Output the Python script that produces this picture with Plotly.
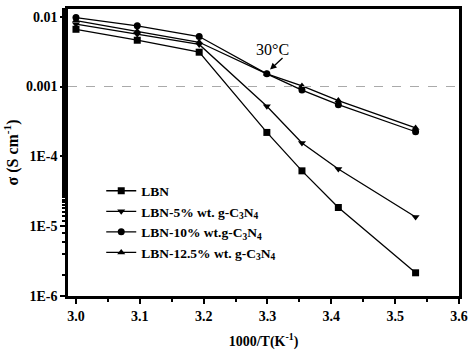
import math
import plotly.graph_objects as go

x_vals = [3.0, 3.096, 3.193, 3.299, 3.354, 3.411, 3.532]
lbn = [0.0066, 0.0046, 0.0031, 2.2e-4, 6.2e-5, 1.85e-5, 2.15e-6]
lbn5 = [0.0078, 0.0056, 0.0040, 5.2e-4, 1.55e-4, 6.6e-5, 1.35e-5]
lbn10 = [0.0097, 0.0074, 0.0052, 0.00152, 8.9e-4, 5.5e-4, 2.25e-4]
lbn125 = [0.0088, 0.0062, 0.0043, 0.00152, 1.02e-3, 6.3e-4, 2.55e-4]
names = ["LBN", "LBN-5% wt. g-C<sub>3</sub>N<sub>4</sub>",
         "LBN-10% wt.g-C<sub>3</sub>N<sub>4</sub>",
         "LBN-12.5% wt. g-C<sub>3</sub>N<sub>4</sub>"]
symbols = ["square", "triangle-down", "circle", "triangle-up"]
series = [lbn, lbn5, lbn10, lbn125]

ytickvals = [1e-6, 1e-5, 1e-4, 1e-3, 1e-2]
yticktext = ["1E-6", "1E-5", "1E-4", "0.001", "0.01"]
xtickvals = [3.0, 3.1, 3.2, 3.3, 3.4, 3.5, 3.6]
ref_line = 1e-3
label_30 = "30°C"

font_family = "Liberation Serif"

fig = go.Figure()
for name, ys, sym in zip(names, series, symbols):
    fig.add_trace(go.Scatter(
        x=x_vals, y=ys, mode="lines+markers", name="<b>" + name + "</b>",
        line=dict(color="black", width=1.3),
        marker=dict(symbol=sym, size=7, color="black"),
    ))

fig.add_hline(y=ref_line, line=dict(color="#aaaaaa", width=1, dash="dash"))

# label and arrow for 30 °C (log axis: annotation y in log10 units)
fig.add_annotation(
    x=3.308, y=-2.465, xref="x", yref="y", text=label_30, showarrow=False,
    font=dict(family=font_family, size=16, color="black"),
)
fig.add_annotation(
    x=3.304, y=math.log10(lbn10[3]) + 0.06, xref="x", yref="y", text="",
    showarrow=True, arrowhead=2, arrowsize=1, arrowwidth=1.3, arrowcolor="black",
    ax=14, ay=-13,
)

fig.update_layout(
    width=474, height=353,
    margin=dict(l=68, r=15, t=6, b=55),
    plot_bgcolor="white", paper_bgcolor="white",
    font=dict(family=font_family, color="black", size=12),
    showlegend=True,
    legend=dict(x=0.085, y=0.42, xanchor="left", yanchor="top",
                bgcolor="rgba(0,0,0,0)", font=dict(size=13.5, family=font_family),
                tracegroupgap=0, itemwidth=30),
)

fig.update_xaxes(
    range=[2.9875, 3.6], tickvals=xtickvals,
    ticktext=["<b>%.1f</b>" % v for v in xtickvals],
    ticks="outside", ticklen=5, tickwidth=2, tickcolor="black",
    minor=dict(ticks="outside", dtick=0.05, ticklen=3, tickwidth=2, tickcolor="black"),
    showline=True, linewidth=2.5, linecolor="black", mirror=True,
    showgrid=False, zeroline=False,
    title=dict(text="<b>1000/T(K<sup>-1</sup>)</b>", font=dict(size=14), standoff=14),
    tickfont=dict(size=14),
)
fig.update_yaxes(
    type="log", range=[-6, -1.89], tickvals=ytickvals,
    ticktext=["<b>%s</b>" % t for t in yticktext],
    ticks="outside", ticklen=5, tickwidth=2, tickcolor="black",
    minor=dict(ticks="outside", ticklen=3, tickwidth=2, tickcolor="black", showgrid=False),
    showline=True, linewidth=2.5, linecolor="black", mirror=True,
    showgrid=False, zeroline=False,
    title=dict(text="<b>σ (S cm<sup>-1</sup>)</b>", font=dict(size=16), standoff=4),
    tickfont=dict(size=14),
)

fig.write_html("out.html")
